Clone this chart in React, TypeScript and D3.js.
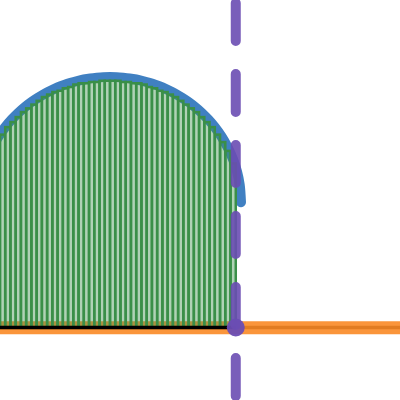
import React from "react";
import * as d3 from "d3";

// Semicircle curve
const curveX = [-1, -0.99, -0.97, -0.94, -0.9, -0.85, -0.8, -0.75, -0.7, -0.65, -0.6, -0.55, -0.5, -0.45, -0.4, -0.35, -0.3, -0.25, -0.2, -0.15, -0.1, -0.05, 0, 0.05, 0.1, 0.15, 0.2, 0.25, 0.3, 0.35, 0.4, 0.45, 0.5, 0.55, 0.6, 0.65, 0.7, 0.75, 0.8, 0.85, 0.9, 0.94, 0.97, 0.99, 1];
const curveY = [0, 0.141, 0.243, 0.341, 0.436, 0.527, 0.6, 0.661, 0.714, 0.76, 0.8, 0.835, 0.866, 0.893, 0.917, 0.937, 0.954, 0.968, 0.98, 0.989, 0.995, 0.999, 1, 0.999, 0.995, 0.989, 0.98, 0.968, 0.954, 0.937, 0.917, 0.893, 0.866, 0.835, 0.8, 0.76, 0.714, 0.661, 0.6, 0.527, 0.436, 0.341, 0.243, 0.141, 0];

// Riemann bars: left edges, width and heights
const barStart = -1;
const barWidth = 0.04;
const barHeights = [
  0.17, 0.31, 0.41, 0.48, 0.54, 0.6, 0.64, 0.68, 0.72, 0.75, 0.78, 0.81, 0.84, 0.86, 0.88, 0.89, 0.91,
  0.92, 0.94, 0.95, 0.95, 0.96, 0.96, 0.97, 0.97, 0.97, 0.97, 0.96, 0.96, 0.95, 0.95, 0.94, 0.92, 0.91,
  0.89, 0.88, 0.86, 0.84, 0.81, 0.78, 0.75, 0.72, 0.68, 0.64, 0.6, 0.54, 0.48, 0.41, 0.31,
];
const baseline = -1;
const markerX = 0.96;

const W = 400;
const H = 400;

export default function App() {
  const x = d3.scaleLinear().domain([-1, 1]).range([-21, 241]);
  const y = d3.scaleLinear().domain([-1, 1]).range([327.5, 77]);

  const pts: [number, number][] = curveX.map((v, i) => [v, curveY[i]]);
  const line = d3
    .line<[number, number]>()
    .x((d) => x(d[0]))
    .y((d) => y(d[1]))
    .curve(d3.curveCatmullRom);

  const bars = barHeights.map((h, i) => {
    const x0 = barStart + i * barWidth;
    return { x0, x1: x0 + barWidth, h };
  });

  return (
    <div style={{ position: "fixed", left: 0, top: 0, width: W, height: H, background: "#fff" }}>
      <svg width={W} height={H} style={{ display: "block", overflow: "hidden" }}>
        {/* full-width black axis beneath orange */}
        <line x1={0} x2={W} y1={y(baseline)} y2={y(baseline)} stroke="#000" strokeWidth={3.5} />
        <line x1={0} x2={W} y1={y(baseline) + 0.2} y2={y(baseline) + 0.2} stroke="#fa8a26" strokeOpacity={0.9} strokeWidth={13} />
        {/* blue curve */}
        <path d={line(pts) || ""} fill="none" stroke="#4080c2" strokeWidth={10} strokeLinecap="round" strokeLinejoin="round" />
        {/* bars */}
        {bars.map((b, i) => (
          <rect
            key={i}
            x={x(b.x0)}
            y={y(b.h)}
            width={x(b.x1) - x(b.x0)}
            height={y(baseline) - y(b.h)}
            fill="#3a8f48"
            fillOpacity={0.4}
            stroke="#3a8f48"
            strokeWidth={2.5}
          />
        ))}
        {/* black segment on top */}
        <line x1={x(-1) - 10} x2={x(markerX)} y1={y(baseline)} y2={y(baseline)} stroke="#000" strokeWidth={3.5} />
        {/* purple dashed marker */}
        <line
          x1={x(markerX)}
          x2={x(markerX)}
          y1={3}
          y2={H}
          stroke="#6a4db3"
          strokeOpacity={0.9}
          strokeWidth={10}
          strokeDasharray="38 33"
          strokeLinecap="round"
        />
        <circle cx={x(markerX)} cy={y(baseline)} r={9} fill="#6a4db3" fillOpacity={0.95} />
      </svg>
    </div>
  );
}
